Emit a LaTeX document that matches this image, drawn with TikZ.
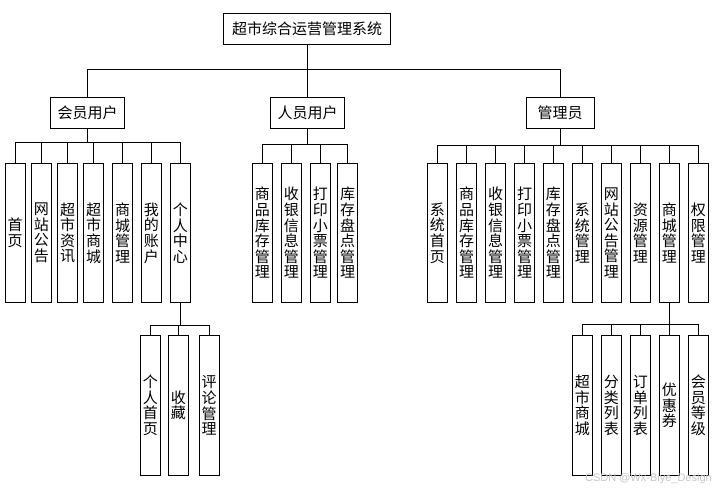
\documentclass[tikz,border=0pt]{standalone}
\usepackage{fontspec}
\setmainfont{Noto Sans CJK SC}
\newfontfamily\wmfont{Liberation Sans}
\begin{document}
\begin{tikzpicture}[x=1pt,y=-1pt,
  box/.style={draw, line width=1pt, inner sep=0pt, font=\fontsize{15}{15.6}\selectfont, align=center},
  hbox/.style={box, minimum height=31pt},
  vbox/.style={box, minimum width=20pt, minimum height=139.5pt},
  conn/.style={line width=1pt}]
\useasboundingbox (0,0) rectangle (726,491);
% root and level 2
\node[hbox, minimum width=167pt] (root) at (307,28.5) {超市综合运营管理系统};
\node[hbox, minimum width=74pt] (hy) at (87.5,113) {会员用户};
\node[hbox, minimum width=74pt] (ry) at (307.7,113) {人员用户};
\node[hbox, minimum width=68pt] (gl) at (560,113) {管理员};
% bars
\coordinate (b0) at (0,69);
\coordinate (b1) at (0,142.5);
\coordinate (b2) at (0,144);
\coordinate (b3) at (0,145);
\coordinate (b4) at (0,325);
\coordinate (b5) at (0,324);
% member children
\node[vbox] (m1) at (15.2,233) {首\\页};
\node[vbox] (m2) at (41.3,233) {网\\站\\公\\告};
\node[vbox] (m3) at (67.5,233) {超\\市\\资\\讯};
\node[vbox] (m4) at (93.7,233) {超\\市\\商\\城};
\node[vbox] (m5) at (122.7,233) {商\\城\\管\\理};
\node[vbox] (m6) at (151.3,233) {我\\的\\账\\户};
\node[vbox] (m7) at (180.3,233) {个\\人\\中\\心};
% staff children
\node[vbox] (r1) at (262.3,233) {商\\品\\库\\存\\管\\理};
\node[vbox] (r2) at (291.3,233) {收\\银\\信\\息\\管\\理};
\node[vbox] (r3) at (320.3,233) {打\\印\\小\\票\\管\\理};
\node[vbox] (r4) at (347.7,233) {库\\存\\盘\\点\\管\\理};
% admin children
\node[vbox] (a1) at (437.3,233) {系\\统\\首\\页};
\node[vbox] (a2) at (466.7,233) {商\\品\\库\\存\\管\\理};
\node[vbox] (a3) at (495.7,233) {收\\银\\信\\息\\管\\理};
\node[vbox] (a4) at (524.7,233) {打\\印\\小\\票\\管\\理};
\node[vbox] (a5) at (553.3,233) {库\\存\\盘\\点\\管\\理};
\node[vbox] (a6) at (582.3,233) {系\\统\\管\\理};
\node[vbox] (a7) at (611.3,233) {网\\站\\公\\告\\管\\理};
\node[vbox] (a8) at (640.3,233) {资\\源\\管\\理};
\node[vbox] (a9) at (669.3,233) {商\\城\\管\\理};
\node[vbox] (a10) at (698.3,233) {权\\限\\管\\理};
% personal center children
\node[vbox] (p1) at (150.3,405.5) {个\\人\\首\\页};
\node[vbox] (p2) at (178.3,405.5) {收\\藏};
\node[vbox] (p3) at (209,405.5) {评\\论\\管\\理};
% mall management children
\node[vbox] (s1) at (582.3,405.5) {超\\市\\商\\城};
\node[vbox] (s2) at (611.3,405.5) {分\\类\\列\\表};
\node[vbox] (s3) at (640.3,405.5) {订\\单\\列\\表};
\node[vbox] (s4) at (669.3,405.5) {优\\惠\\券};
\node[vbox] (s5) at (698.3,405.5) {会\\员\\等\\级};
% connectors
\foreach \c in {hy,ry,gl}
  \draw[conn] (root.south) |- (b0 -| \c.north) -- (\c.north);
\foreach \c in {m1,m2,m3,m4,m5,m6,m7}
  \draw[conn] (hy.south) |- (b1 -| \c.north) -- (\c.north);
\foreach \c in {r1,r2,r3,r4}
  \draw[conn] (ry.south) |- (b2 -| \c.north) -- (\c.north);
\foreach \c in {a1,a2,a3,a4,a5,a6,a7,a8,a9,a10}
  \draw[conn] (gl.south) |- (b3 -| \c.north) -- (\c.north);
\foreach \c in {p1,p2,p3}
  \draw[conn] (m7.south) |- (b4 -| \c.north) -- (\c.north);
\foreach \c in {s1,s2,s3,s4,s5}
  \draw[conn] (a9.south) |- (b5 -| \c.north) -- (\c.north);
% watermark
\node[text=gray!45, font=\wmfont\fontsize{11}{11}\selectfont, anchor=east, inner sep=0pt] (wm) at (712,479) {CSDN @Wx-Biye\_Design};
\end{tikzpicture}
\end{document}
